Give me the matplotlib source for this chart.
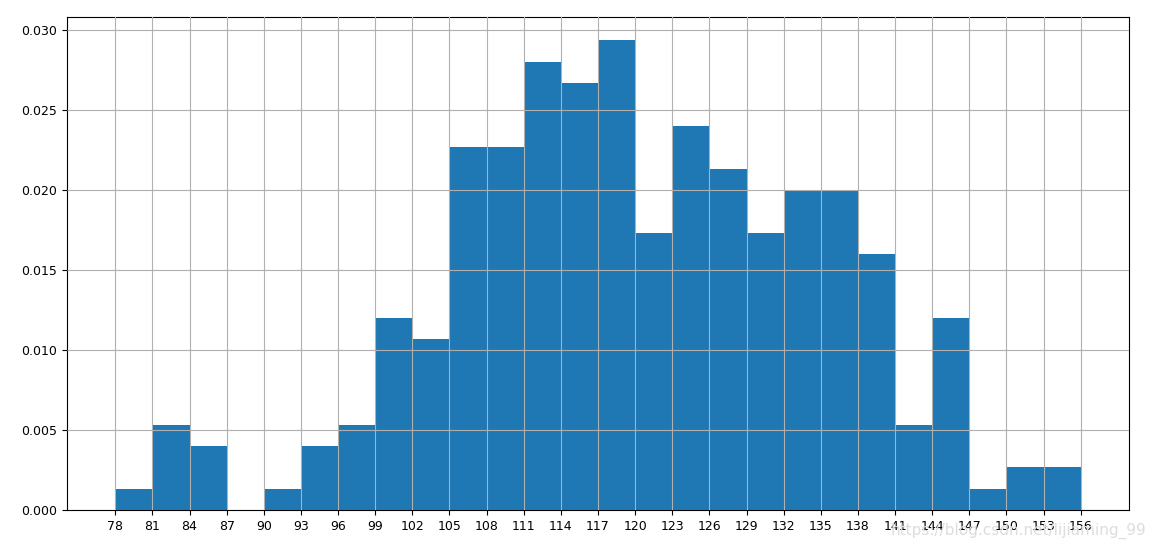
import numpy as np
import matplotlib.pyplot as plt

# bin counts (bin width 3, from 78 to 156), total 250 samples
bin_edges = list(range(78, 157, 3))
counts = [1, 4, 3, 0, 1, 3, 4, 9, 8, 17, 17, 21, 20, 22, 13, 18, 16, 13,
          15, 15, 12, 4, 9, 1, 2, 2]

centers = [e + 1.5 for e in bin_edges[:-1]]

fig = plt.figure(figsize=(11.58, 5.47), dpi=100)
ax = fig.add_axes([67 / 1158, 37 / 547, 1062 / 1158, 493 / 547])
ax.hist(centers, bins=bin_edges, weights=counts, density=True, color='#1f77b4')
ax.set_xticks(bin_edges)
ax.set_axisbelow(False)
ax.grid(True, color='#b0b0b0', linewidth=0.8)
ax.set_ylim(0, 0.0308)
ax.tick_params(labelsize=9)
fig.text(0.99, 0.015, 'https://blog.csdn.net/lijiaming_99', ha='right',
         va='bottom', color='#dddddd', fontsize=11)

plt.savefig('out.png')
